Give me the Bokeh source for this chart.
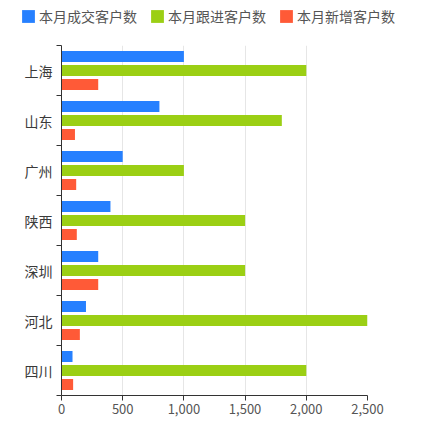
from bokeh.plotting import figure
from bokeh.layouts import column, row
from bokeh.models import Range1d, FixedTicker, NumeralTickFormatter, Legend, LegendItem
from bokeh.embed import file_html
from bokeh.resources import INLINE

cities = ["上海", "山东", "广州", "陕西", "深圳", "河北", "四川"]
deals = [1000, 800, 500, 400, 300, 200, 90]
follow = [2000, 1800, 1000, 1500, 1500, 2500, 2000]
new = [300, 110, 120, 125, 300, 150, 95]
series_names = ["本月成交客户数", "本月跟进客户数", "本月新增客户数"]
colors = ["#2680FF", "#9BCF14", "#FF5A37"]
x_ticks = [0, 500, 1000, 1500, 2000, 2500]

font = "Noto Sans CJK SC"
n = len(cities)
# top city sits in the top band
pos = [n - i - 0.5 for i in range(n)]
series = [deals, follow, new]

p = figure(frame_width=306, frame_height=350,
           min_border_left=61, min_border_top=8,
           min_border_right=47, min_border_bottom=30,
           x_range=Range1d(0, 2500), y_range=Range1d(0, n),
           output_backend="svg", toolbar_location=None)
p.outline_line_color = None
p.background_fill_color = "white"

p.xaxis.ticker = FixedTicker(ticks=x_ticks)
p.xaxis.formatter = NumeralTickFormatter(format="0,0")
p.xaxis.minor_tick_line_color = None
p.xaxis.major_tick_in = 0
p.xaxis.major_tick_out = 5
p.xaxis.axis_line_color = "#333333"
p.xaxis.major_tick_line_color = "#333333"
p.xaxis.major_label_text_font = font
p.xaxis.major_label_text_font_size = "13px"
p.xaxis.major_label_text_color = "#555555"
p.xaxis.major_label_standoff = 3

p.yaxis.ticker = FixedTicker(ticks=pos, minor_ticks=list(range(n + 1)))
p.yaxis.major_label_overrides = {y: c for y, c in zip(pos, cities)}
p.yaxis.major_tick_line_color = None
p.yaxis.major_tick_in = 0
p.yaxis.major_tick_out = 0
p.yaxis.minor_tick_in = 0
p.yaxis.minor_tick_out = 5
p.yaxis.minor_tick_line_color = "#333333"
p.yaxis.axis_line_color = "#333333"
p.yaxis.major_label_text_font = font
p.yaxis.major_label_text_font_size = "14px"
p.yaxis.major_label_text_color = "#3a3a3a"
p.yaxis.major_label_standoff = 4

p.xgrid.grid_line_color = "#e6e6e6"
p.ygrid.grid_line_color = None

offsets = [0.28, 0, -0.28]
for vals, color, off in zip(series, colors, offsets):
    p.hbar(y=[y + off for y in pos], left=0, right=vals, height=0.22,
           fill_color=color, line_color=None)

# legend strip on top; its bars fall outside its own view, only the legend shows
top = figure(width=414, height=37, min_border=0,
             x_range=Range1d(-2, -1), y_range=Range1d(0, n),
             x_axis_location=None, y_axis_location=None,
             output_backend="svg", toolbar_location=None)
top.outline_line_color = None
top.grid.grid_line_color = None
items = []
for name, vals, color in zip(series_names, series, colors):
    r = top.hbar(y=pos, left=0, right=vals, height=0.22, fill_color=color,
                 line_color=None, border_radius=3)
    items.append(LegendItem(label=name, renderers=[r]))

legend = Legend(items=items, orientation="horizontal", location=(20, 11))
legend.glyph_width = 16
legend.glyph_height = 16
legend.label_standoff = 3
legend.spacing = 12
legend.padding = 0
legend.margin = 0
legend.border_line_color = None
legend.background_fill_alpha = 0
legend.label_text_font = font
legend.label_text_font_size = "14px"
legend.label_text_color = "#555555"
top.add_layout(legend, "center")

layout = column(row(top), p, spacing=0)
open("out.html", "w").write(file_html(layout, INLINE))
